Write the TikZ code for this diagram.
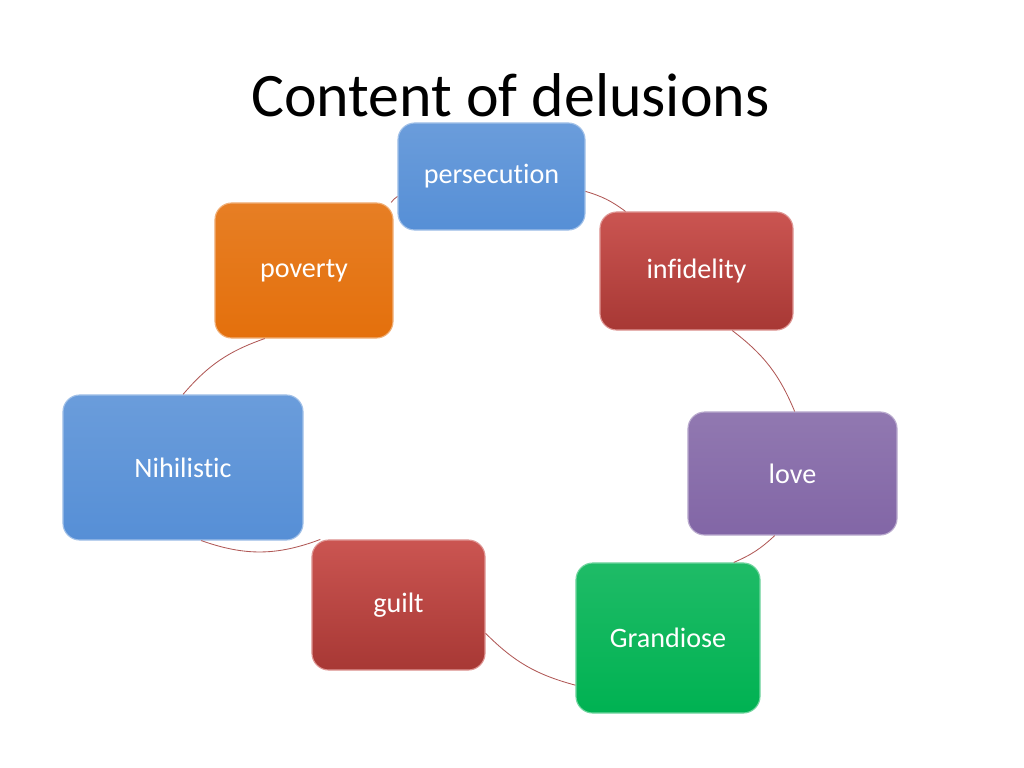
\documentclass[tikz,border=0pt]{standalone}
\usepackage{fontspec}
\setmainfont{Carlito}[Ligatures=NoCommon]

\definecolor{cblue}{RGB}{86,143,214}
\definecolor{cred}{RGB}{197,66,62}
\definecolor{corange}{RGB}{228,112,12}
\definecolor{cpurple}{RGB}{130,102,166}
\definecolor{cgreen}{RGB}{0,178,82}
\definecolor{cline}{RGB}{176,88,86}

\begin{document}
\begin{tikzpicture}[x=0.025cm, y=-0.025cm,
  cbox/.style={rounded corners=0.42cm, text=white, font=\fontsize{20}{24}\selectfont, line width=0.8pt},
  link/.style={draw=cline, line width=0.6pt}]
  \useasboundingbox (0,0) rectangle (1024,768);
  \node[anchor=base, font=\fontsize{44}{52}\selectfont] (title) at (510.5,117) {Content of delusions};
  % boxes round the cycle
  \node[cbox, top color=cblue!88!white, bottom color=cblue, draw=cblue!55!white, minimum width=4.675cm, minimum height=2.675cm] (pers) at (491.5,176.5) {persecution};
  \node[cbox, top color=cred!90!white, bottom color=cred!85!black, draw=cred!55!white, minimum width=4.825cm, minimum height=2.95cm] (infid) at (696.5,271) {infidelity};
  \node[cbox, top color=cpurple!88!white, bottom color=cpurple, draw=cpurple!55!white, minimum width=5.225cm, minimum height=3.075cm] (love) at (792.5,473.5) {love};
  \node[cbox, top color=cgreen!88!white, bottom color=cgreen, draw=cgreen!55!white, minimum width=4.6cm, minimum height=3.75cm] (grand) at (668,638) {Grandiose};
  \node[cbox, top color=cred!90!white, bottom color=cred!85!black, draw=cred!55!white, minimum width=4.325cm, minimum height=3.25cm] (guilt) at (398.5,605) {guilt};
  \node[cbox, top color=cblue!88!white, bottom color=cblue, draw=cblue!55!white, minimum width=6cm, minimum height=3.625cm] (nihil) at (183,467.5) {Nihilistic};
  \node[cbox, top color=corange!90!white, bottom color=corange, draw=corange!55!white, minimum width=4.45cm, minimum height=3.375cm] (pov) at (304,270.5) {poverty};
  % arcs between them
  \draw[link] (pov.38) to[bend left=10] (pers.192);
  \draw[link] (pers.351) to[bend left=10] (infid.140);
  \draw[link] (infid.301) to[bend left=15] (love.88);
  \draw[link] (love.254) to[bend left=10] (grand.49);
  \draw[link] (grand.207) to[bend left=15] (guilt.342);
  \draw[link] (guilt.140) to[bend left=20] (nihil.284);
  \draw[link] (nihil.90) to[bend left=15] (pov.240);
\end{tikzpicture}
\end{document}
